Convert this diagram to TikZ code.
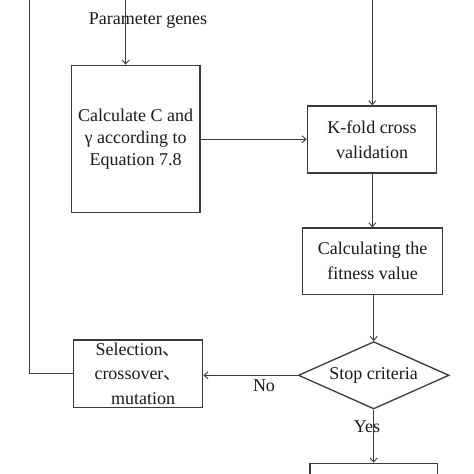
\documentclass[tikz,border=0pt]{standalone}
\usepackage{fontspec}
\setmainfont{Liberation Serif}
\newfontfamily\cjk{Noto Sans CJK SC}
\usetikzlibrary{shapes.geometric,arrows.meta}
\definecolor{ln}{HTML}{3A3A3A}
\definecolor{tx}{HTML}{1A1A1A}
\tikzset{
  box/.style={draw=ln, line width=1.3pt, rectangle, inner sep=0pt, align=center, text=tx},
  arr/.style={draw=ln, line width=1.2pt, -{Straight Barb[length=4pt,width=7pt,line width=0.9pt]}},
  ln/.style={draw=ln, line width=1.2pt},
  lbl/.style={text=tx, inner sep=0pt}
}
\begin{document}
\begin{tikzpicture}[x=1pt,y=-1pt, font=\fontsize{18}{22}\selectfont]
\clip (0,0) rectangle (474,474);
\fill[white] (0,0) rectangle (474,474);
% nodes
\node[box, minimum width=128.7pt, minimum height=147.4pt] (calc) at (135.7,139) {Calculate C and\\γ according to\\Equation 7.8};
\node[box, minimum width=129.4pt, minimum height=67pt, font=\fontsize{18}{25}\selectfont] (kfold) at (372,139.5) {K-fold cross\\validation};
\node[box, minimum width=140pt, minimum height=66.3pt, font=\fontsize{18}{25}\selectfont] (fit) at (372.7,261.2) {Calculating the\\fitness value};
\node[draw=ln, line width=1.3pt, diamond, aspect=2.24, inner sep=0pt, minimum width=150.7pt, minimum height=67.3pt, text=tx] (stop) at (373.7,375.3) {};
\node[lbl] at (373.7,375.3) {Stop criteria};
\node[box, minimum width=129.4pt, minimum height=67.7pt, font=\fontsize{18}{24.5}\selectfont] (sel) at (138,373.8) {Selection{\cjk 、}\\crossover{\cjk 、}\\\hspace*{10pt}mutation};
\node[box, minimum width=127.7pt, minimum height=40pt] (end) at (373.8,483.3) {};
% free ends
\coordinate (topL) at (29.5,-2);
\coordinate (topP) at (125.7,-2);
\coordinate (topR) at (372.3,-2);
% labels
\node[lbl] (pg) at (148,21) {Parameter genes};
\node[lbl] (no) at (264,386) {No};
\node[lbl] (yes) at (367,427) {Yes};
% connectors
\draw[arr] (topP) -- (topP |- calc.north);
\draw[arr] (topR) -- (topR |- kfold.north);
\draw[arr] (calc.east |- 0,139.3) -- (kfold.west |- 0,139.3);
\draw[arr] (kfold.south -| topR) -- (fit.north -| topR);
\draw[arr] (fit.south -| stop.north) -- (stop.north);
\draw[arr] (stop.west) -- (sel.east |- stop.west);
\draw[arr] (stop.south) -- (end.north -| stop.south);
\draw[ln] (sel.west) -- (topL |- sel.west) -- (topL);
\end{tikzpicture}
\end{document}
